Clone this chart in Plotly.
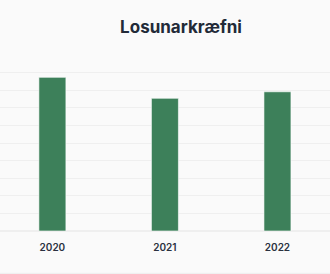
import plotly.graph_objects as go

years = ["2020", "2021", "2022"]
values = [8.73, 7.54, 7.91]
title_text = "Losunarkræfni"

fig = go.Figure(go.Bar(
    x=years, y=values, width=0.24,
    marker=dict(color="#3d805a", line=dict(color="rgba(255,255,255,0.6)", width=1)),
    hoverinfo="skip",
))

fig.update_layout(
    width=330, height=274,
    margin=dict(l=0, r=0, t=55, b=43),
    paper_bgcolor="#fafafa", plot_bgcolor="#fafafa",
    showlegend=False,
    title=dict(text="<b>" + title_text + "</b>", x=181/330, xanchor="center",
               y=1 - 27/274, yanchor="middle",
               font=dict(family="Inter, Open Sans, sans-serif", size=17, color="#222a38")),
    xaxis=dict(type="category", range=[-0.4656, 2.467], showgrid=False, showline=False,
               ticks="outside", ticklen=7, tickcolor="rgba(0,0,0,0)",
               tickfont=dict(family="Inter, sans-serif", size=10, color="#2a3140", weight=600)),
    yaxis=dict(range=[0, 10], dtick=1, showticklabels=False, gridcolor="#efefef",
               gridwidth=1, zeroline=True, zerolinecolor="#efefef", showline=False),
)
fig.add_shape(type="line", xref="paper", yref="paper", x0=0, x1=1, y0=-42.3/176, y1=-42.3/176,
              line=dict(color="#eeeeee", width=1))

fig.write_html("out.html")
